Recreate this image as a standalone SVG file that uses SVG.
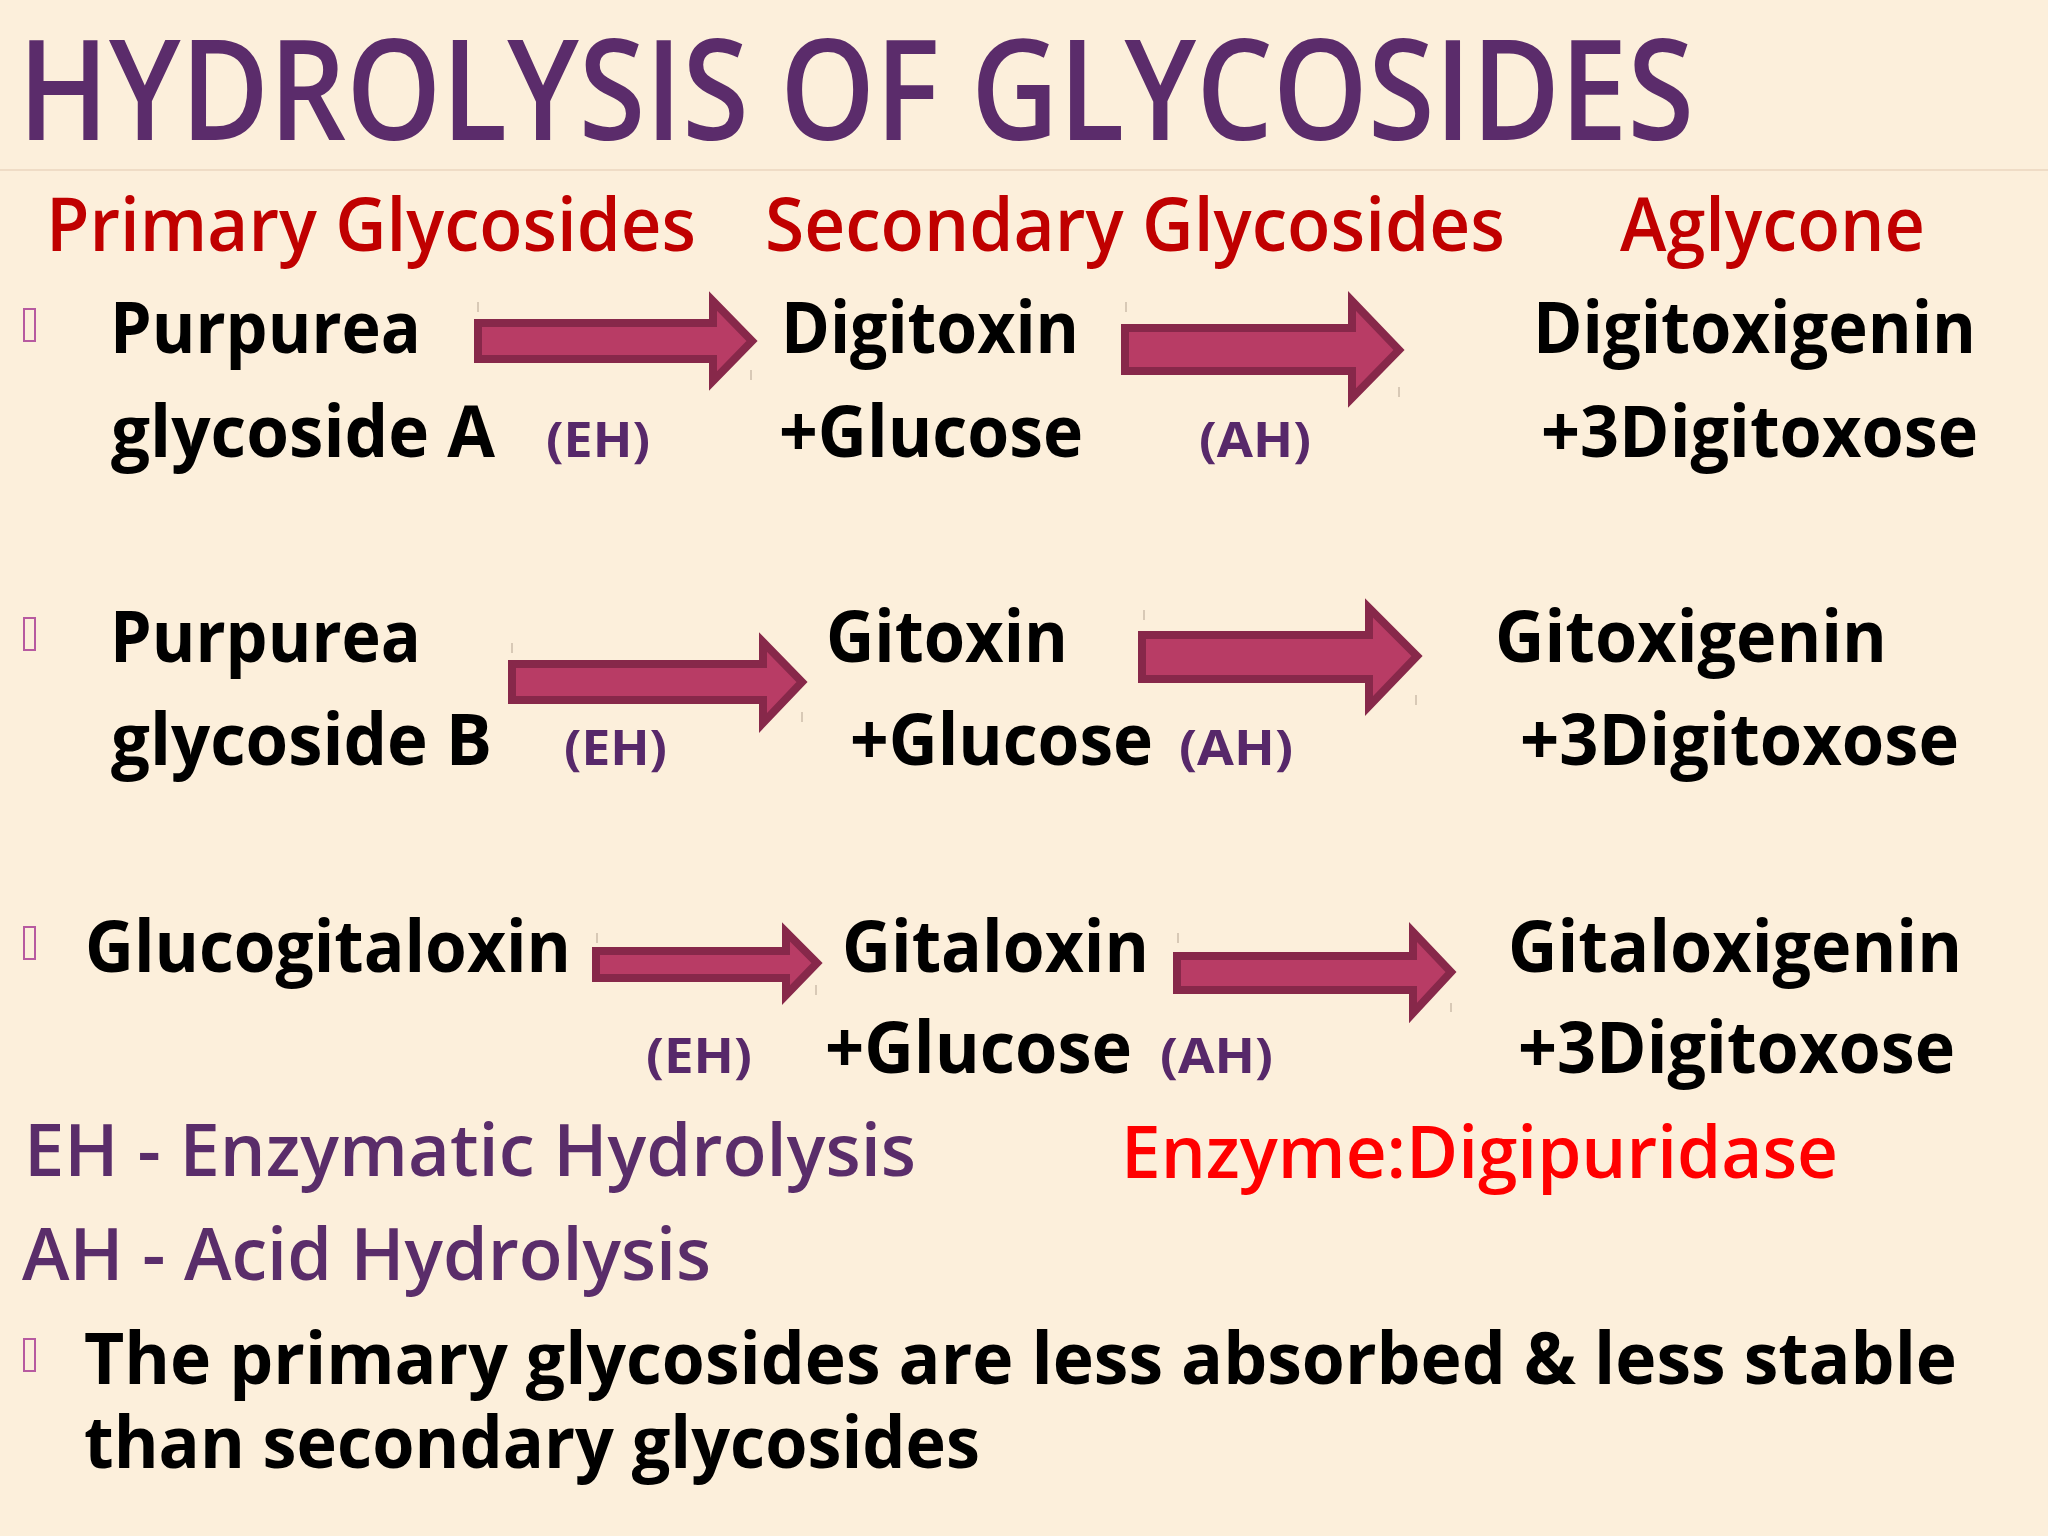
<svg xmlns="http://www.w3.org/2000/svg" width="2048" height="1536" viewBox="0 0 2048 1536">
<style>
text{font-family:"Open Sans","Liberation Sans",sans-serif;}
.title{font-size:140px;fill:#5b2c6b;font-weight:600;}
.head{font-size:74px;fill:#c00000;font-weight:600;}
.t{font-size:72px;fill:#000;font-weight:700;}
.lab{font-size:48px;fill:#57286a;font-weight:700;}
.leg{font-size:72px;fill:#5a2d6a;font-weight:600;}
.enz{font-size:72px;fill:#ff0000;font-weight:600;}
.bul{fill:none;stroke:#b75aa0;stroke-width:2;}
.arrow{fill:#b83c65;stroke:#87284a;stroke-width:8;stroke-linejoin:miter;}
.tick{stroke:#cdbcaa;stroke-width:1.5;}
</style>
<rect x="0" y="0" width="2048" height="1536" fill="#fcefdb"/>
<line x1="0" y1="170" x2="2048" y2="170" stroke="#efdcc6" stroke-width="2"/>
<g id="title"><text class="title" x="18" y="140" textLength="1676" lengthAdjust="spacingAndGlyphs">HYDROLYSIS OF GLYCOSIDES</text></g>
<g id="headings">
<text class="head" x="46" y="251" textLength="650" lengthAdjust="spacingAndGlyphs">Primary Glycosides</text>
<text class="head" x="765" y="251" textLength="740" lengthAdjust="spacingAndGlyphs">Secondary Glycosides</text>
<text class="head" x="1620" y="251" textLength="305" lengthAdjust="spacingAndGlyphs">Aglycone</text>
</g>
<g id="bullets">
<rect class="bul" x="24" y="309" width="11" height="32"/>
<rect class="bul" x="24" y="618" width="11" height="32"/>
<rect class="bul" x="24" y="927" width="11" height="32"/>
<rect class="bul" x="24" y="1339" width="11" height="32"/>
</g>
<g id="purpurea-a"><text class="t" x="110" y="353" textLength="311" lengthAdjust="spacingAndGlyphs">Purpurea</text><text class="t" x="111" y="457" textLength="384" lengthAdjust="spacingAndGlyphs">glycoside A</text></g>
<g id="digitoxin"><text class="t" x="781" y="353" textLength="298" lengthAdjust="spacingAndGlyphs">Digitoxin</text><text class="t" x="779" y="457" textLength="304" lengthAdjust="spacingAndGlyphs">+Glucose</text></g>
<g id="digitoxigenin"><text class="t" x="1533" y="353" textLength="443" lengthAdjust="spacingAndGlyphs">Digitoxigenin</text><text class="t" x="1541" y="457" textLength="437" lengthAdjust="spacingAndGlyphs">+3Digitoxose</text></g>
<g id="purpurea-b"><text class="t" x="110" y="662" textLength="311" lengthAdjust="spacingAndGlyphs">Purpurea</text><text class="t" x="111" y="765" textLength="381" lengthAdjust="spacingAndGlyphs">glycoside B</text></g>
<g id="gitoxin"><text class="t" x="826" y="662" textLength="242" lengthAdjust="spacingAndGlyphs">Gitoxin</text><text class="t" x="850" y="765" textLength="303" lengthAdjust="spacingAndGlyphs">+Glucose</text></g>
<g id="gitoxigenin"><text class="t" x="1495" y="662" textLength="392" lengthAdjust="spacingAndGlyphs">Gitoxigenin</text><text class="t" x="1520" y="765" textLength="439" lengthAdjust="spacingAndGlyphs">+3Digitoxose</text></g>
<g id="glucogitaloxin"><text class="t" x="85" y="972" textLength="486" lengthAdjust="spacingAndGlyphs">Glucogitaloxin</text></g>
<g id="gitaloxin"><text class="t" x="842" y="972" textLength="307" lengthAdjust="spacingAndGlyphs">Gitaloxin</text><text class="t" x="825" y="1073" textLength="307" lengthAdjust="spacingAndGlyphs">+Glucose</text></g>
<g id="gitaloxigenin"><text class="t" x="1508" y="972" textLength="454" lengthAdjust="spacingAndGlyphs">Gitaloxigenin</text><text class="t" x="1518" y="1073" textLength="437" lengthAdjust="spacingAndGlyphs">+3Digitoxose</text></g>
<g id="connectors">
<polygon class="arrow" points="478,323 713,323 713,301 752,341 713,381 713,359 478,359"/>
<polygon class="arrow" points="1125,328 1352,328 1352,301 1399,350 1352,398 1352,371 1125,371"/>
<polygon class="arrow" points="512,664 763,664 763,642 802,682 763,723 763,700 512,700"/>
<polygon class="arrow" points="1142,635 1369,635 1369,608 1417,656 1369,706 1369,679 1142,679"/>
<polygon class="arrow" points="596,951 786,951 786,932 817,963 786,995 786,978 596,978"/>
<polygon class="arrow" points="1177,956 1413,956 1413,932 1451,972 1413,1013 1413,990 1177,990"/>
<text class="lab" x="546" y="457" textLength="104" lengthAdjust="spacingAndGlyphs">(EH)</text>
<text class="lab" x="1199" y="457" textLength="112" lengthAdjust="spacingAndGlyphs">(AH)</text>
<text class="lab" x="564" y="765" textLength="103" lengthAdjust="spacingAndGlyphs">(EH)</text>
<text class="lab" x="1179" y="765" textLength="114" lengthAdjust="spacingAndGlyphs">(AH)</text>
<text class="lab" x="646" y="1073" textLength="106" lengthAdjust="spacingAndGlyphs">(EH)</text>
<text class="lab" x="1160" y="1073" textLength="113" lengthAdjust="spacingAndGlyphs">(AH)</text>
<line class="tick" x1="478" y1="302" x2="478" y2="312"/><line class="tick" x1="751" y1="370" x2="751" y2="380"/>
<line class="tick" x1="1126" y1="302" x2="1126" y2="312"/><line class="tick" x1="1399" y1="387" x2="1399" y2="397"/>
<line class="tick" x1="512" y1="643" x2="512" y2="653"/><line class="tick" x1="802" y1="712" x2="802" y2="722"/>
<line class="tick" x1="1144" y1="610" x2="1144" y2="620"/><line class="tick" x1="1416" y1="695" x2="1416" y2="705"/>
<line class="tick" x1="597" y1="933" x2="597" y2="943"/><line class="tick" x1="816" y1="985" x2="816" y2="995"/>
<line class="tick" x1="1178" y1="933" x2="1178" y2="943"/><line class="tick" x1="1451" y1="1003" x2="1451" y2="1012"/>
</g>
<g id="legend">
<text class="leg" x="24" y="1176" textLength="892" lengthAdjust="spacingAndGlyphs">EH - Enzymatic Hydrolysis</text>
<text class="enz" x="1121" y="1178" textLength="717" lengthAdjust="spacingAndGlyphs">Enzyme:Digipuridase</text>
<text class="leg" x="22" y="1280" textLength="689" lengthAdjust="spacingAndGlyphs">AH - Acid Hydrolysis</text>
</g>
<g id="note">
<text class="t" x="84" y="1384" textLength="1873" lengthAdjust="spacingAndGlyphs">The primary glycosides are less absorbed &amp; less stable</text>
<text class="t" x="84" y="1468" textLength="896" lengthAdjust="spacingAndGlyphs">than secondary glycosides</text>
</g>
</svg>
